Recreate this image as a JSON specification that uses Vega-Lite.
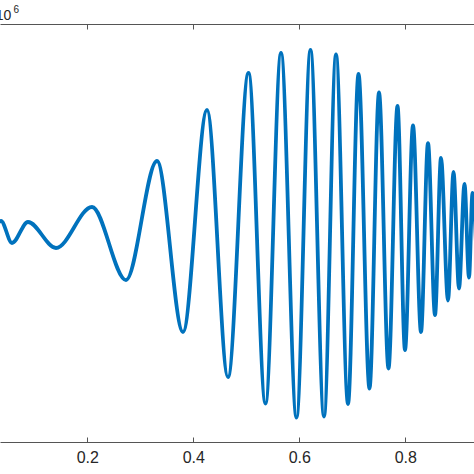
{
  "$schema": "https://vega.github.io/schema/vega-lite/v6.json",
  "width": 474,
  "height": 418,
  "autosize": {"type": "none"},
  "padding": {"left": 0, "top": 24, "right": 0, "bottom": 32},
  "background": "#ffffff",
  "title": {
    "text": "×10",
    "anchor": "start",
    "frame": "group",
    "dx": -12.5,
    "dy": 34,
    "offset": 4,
    "baseline": "alphabetic",
    "font": "Liberation Sans",
    "fontSize": 14,
    "fontWeight": "normal",
    "color": "#262626"
  },
  "config": {"view": {"stroke": null}},
  "data": {
    "values": [
      {"t": 0.01642, "v": -0.096},
      {"t": 0.03717, "v": 0.230},
      {"t": 0.05792, "v": -0.191},
      {"t": 0.08811, "v": 0.211},
      {"t": 0.14094, "v": -0.287},
      {"t": 0.20887, "v": 0.498},
      {"t": 0.27302, "v": -0.900},
      {"t": 0.33151, "v": 1.378},
      {"t": 0.38057, "v": -1.895},
      {"t": 0.42585, "v": 2.354},
      {"t": 0.46547, "v": -2.756},
      {"t": 0.50415, "v": 3.062},
      {"t": 0.53623, "v": -3.263},
      {"t": 0.56547, "v": 3.445},
      {"t": 0.59472, "v": -3.531},
      {"t": 0.62113, "v": 3.502},
      {"t": 0.64660, "v": -3.512},
      {"t": 0.66925, "v": 3.416},
      {"t": 0.69189, "v": -3.273},
      {"t": 0.71170, "v": 3.043},
      {"t": 0.73245, "v": -2.976},
      {"t": 0.75038, "v": 2.689},
      {"t": 0.76830, "v": -2.593},
      {"t": 0.78528, "v": 2.431},
      {"t": 0.79943, "v": -2.239},
      {"t": 0.81453, "v": 2.057},
      {"t": 0.82962, "v": -1.895},
      {"t": 0.84283, "v": 1.722},
      {"t": 0.85604, "v": -1.569},
      {"t": 0.86736, "v": 1.435},
      {"t": 0.88057, "v": -1.292},
      {"t": 0.89094, "v": 1.167},
      {"t": 0.90132, "v": -1.062},
      {"t": 0.91170, "v": 0.938},
      {"t": 0.92019, "v": -0.852},
      {"t": 0.92679, "v": 0.766},
      {"t": 0.93528, "v": -0.670}
    ]
  },
  "encoding": {
    "y": {
      "field": "v",
      "type": "quantitative",
      "scale": {"domain": [-4, 4], "nice": false},
      "axis": {
        "orient": "left",
        "domain": false,
        "ticks": false,
        "labels": false,
        "grid": false,
        "title": "6",
        "titleAngle": 0,
        "titleX": 13,
        "titleY": -12,
        "titleAlign": "left",
        "titleBaseline": "alphabetic",
        "titleFont": "Liberation Sans",
        "titleFontSize": 10,
        "titleFontWeight": "normal",
        "titleColor": "#262626"
      }
    }
  },
  "layer": [
    {
      "mark": {
        "type": "line",
        "color": "#0072BD",
        "strokeWidth": 3.8,
        "interpolate": "monotone",
        "clip": true
      },
      "encoding": {
        "x": {
          "field": "t",
          "type": "quantitative",
          "scale": {"domain": [0.03528, 0.92962], "nice": false, "zero": false},
          "axis": {
            "orient": "bottom",
            "title": null,
            "grid": false,
            "values": [0.2, 0.4, 0.6, 0.8],
            "format": ".1f",
            "domainColor": "#555555",
            "tickColor": "#555555",
            "tickSize": -5,
            "labelFont": "Liberation Sans",
            "labelFontSize": 16,
            "labelColor": "#262626",
            "labelBaseline": "alphabetic",
            "labelPadding": 25
          }
        }
      }
    },
    {
      "mark": {"type": "line", "strokeOpacity": 0},
      "encoding": {
        "x": {
          "field": "t",
          "type": "quantitative",
          "scale": {"domain": [0.03528, 0.92962], "nice": false, "zero": false},
          "axis": {
            "orient": "top",
            "title": null,
            "grid": false,
            "labels": false,
            "values": [0.2, 0.4, 0.6, 0.8],
            "domainColor": "#555555",
            "tickColor": "#555555",
            "tickSize": -5
          }
        }
      }
    }
  ],
  "resolve": {"axis": {"x": "independent"}}
}
